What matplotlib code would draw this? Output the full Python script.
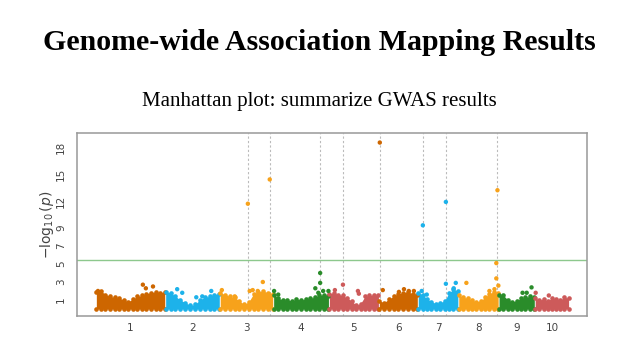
import numpy as np
import matplotlib
matplotlib.use("Agg")
import matplotlib.pyplot as plt

# chromosome lengths (Mb) and colours
chrom_names = ["1", "2", "3", "4", "5", "6", "7", "8", "9", "10"]
chrom_len = [301, 237, 232, 242, 217, 169, 176, 175, 157, 149]
chrom_col = ["#CD6600", "#1DB2EA", "#F7A21B", "#2A8C2A", "#CD5A5A",
             "#CD6600", "#1DB2EA", "#F7A21B", "#2A8C2A", "#CD5A5A"]

# top of the dense cloud of SNPs, read along each chromosome
band_top = [
    [1.9, 2.0, 1.6, 1.4, 1.3, 1.2, 1.0, 0.8, 1.1, 1.4, 1.5, 1.7, 1.8, 1.9, 1.8, 1.9],
    [1.9, 1.8, 1.4, 1.0, 0.7, 0.4, 0.5, 1.0, 1.3, 1.4, 1.6, 1.7],
    [1.8, 1.6, 1.4, 1.3, 0.9, 0.5, 0.8, 1.7, 1.9, 2.0, 1.8, 1.7],
    [1.6, 1.2, 1.0, 1.0, 0.9, 1.1, 1.0, 1.1, 1.2, 1.3, 1.5, 1.6, 1.4],
    [1.7, 1.8, 1.6, 1.5, 1.2, 0.9, 0.4, 0.6, 1.4, 1.5, 1.6, 1.5],
    [0.9, 0.7, 1.1, 1.4, 1.7, 1.8, 1.9, 1.7, 1.6],
    [1.8, 1.6, 1.1, 0.8, 0.6, 0.7, 0.9, 1.8, 2.2, 2.0],
    [1.5, 1.3, 1.2, 1.0, 0.8, 0.9, 1.3, 1.7, 1.9, 1.8],
    [1.6, 1.5, 1.0, 0.8, 0.9, 1.2, 1.3, 1.4, 1.3],
    [1.2, 1.0, 1.1, 0.9, 1.2, 1.1, 1.0, 1.3, 1.2],
]

# individual SNPs standing out of the cloud: (chromosome index, Mb, -log10 p)
snp_chr = [0, 0, 0, 0, 1, 1, 1, 1, 1, 2, 2, 2, 2, 2, 2, 2, 2,
           3, 3, 3, 3, 3, 3, 3, 3, 4, 4, 4, 4, 5, 5, 5, 5, 5, 5,
           6, 6, 6, 6, 6, 6, 6, 7, 7, 7, 7, 7, 7, 7, 8, 8, 8, 9, 9]
snp_pos = [204, 248, 217, 9, 52, 74, 135, 161, 200, 9, 65, 130, 143, 165, 187, 122, 217,
           4, 22, 183, 204, 204, 196, 217, 240, 26, 61, 130, 126, 4, 17, 87, 109, 130, 152,
           22, 122, 17, 39, 122, 165, 156, 35, 170, 165, 165, 157, 135, 174, 143, 104, 122, 4, 61]
snp_val = [2.7, 2.5, 2.3, 2.0, 2.2, 1.8, 1.3, 1.4, 2.0, 2.1, 1.4, 2.0, 2.1, 2.0, 3.0, 11.7, 14.4,
           2.0, 1.6, 2.3, 4.0, 2.9, 1.8, 2.0, 2.0, 2.1, 2.7, 1.7, 2.0, 18.5, 2.1, 1.9, 2.2, 2.0, 2.0,
           9.3, 11.9, 2.0, 1.6, 2.8, 2.9, 2.3, 2.9, 13.2, 5.1, 3.4, 2.2, 2.0, 2.6, 2.4, 1.8, 1.8, 1.8, 1.5]

# highlighted loci (dotted guide lines)
hit_chr = [2, 2, 3, 4, 5, 6, 6, 7]
hit_pos = [122, 217, 204, 61, 4, 22, 122, 170]

threshold = 5.4
ytick_vals = [1, 3, 5, 7, 9, 12, 15, 18]

plt.rcParams['font.family'] = ['DejaVu Sans']
fig = plt.figure(figsize=(6.38, 3.59), dpi=100)

fig.text(0.5, 0.882, "Genome-wide Association Mapping Results", ha="center", va="center",
         family="Liberation Serif", fontweight="bold", fontsize=21.5)
fig.text(0.5, 0.716, "Manhattan plot: summarize GWAS results", ha="center", va="center",
         family="Liberation Serif", fontsize=15)

ax = fig.add_axes([0.1207, 0.1198, 0.7994, 0.5097])

starts = np.concatenate([[0], np.cumsum(chrom_len)[:-1]])
for i in range(len(chrom_len)):
    x = starts[i] + np.linspace(2, chrom_len[i] - 2, len(band_top[i]))
    top = np.array(band_top[i])
    ax.fill_between(x, 0, top, color=chrom_col[i], lw=0, zorder=2)
    ax.scatter(x, top, s=11, color=chrom_col[i], lw=0, zorder=3)
    ax.scatter(x, np.zeros_like(x) + 0.05, s=11, color=chrom_col[i], lw=0, zorder=3)

for c, p in zip(hit_chr, hit_pos):
    ax.axvline(starts[c] + p, color="#BBBBBB", lw=0.8, ls=(0, (2, 2)), zorder=1)

sx = [starts[c] + p for c, p in zip(snp_chr, snp_pos)]
sc = [chrom_col[c] for c in snp_chr]
ax.scatter(sx, snp_val, s=10, c=sc, lw=0, zorder=4)

ax.axhline(threshold, color="#8DC88D", lw=1.0, zorder=1)

ax.set_xlim(-82, 2133)
ax.set_ylim(-0.78, 19.56)
ax.set_yticks(ytick_vals)
ax.set_yticklabels([str(v) for v in ytick_vals], rotation=90, va="center")
ax.set_xticks(starts + np.array(chrom_len) / 2)
ax.set_xticklabels(chrom_names)
ax.tick_params(length=0, labelsize=7.5, colors="#444444")
ax.tick_params(axis="y", pad=8)
ax.tick_params(axis="x", pad=5)
ax.set_ylabel(r"$-\log_{10}(p)$", fontsize=10, color="#444444", labelpad=0)
for s in ax.spines.values():
    s.set_color("#999999")
    s.set_linewidth(1.1)

fig.savefig("out.png", dpi=100)
